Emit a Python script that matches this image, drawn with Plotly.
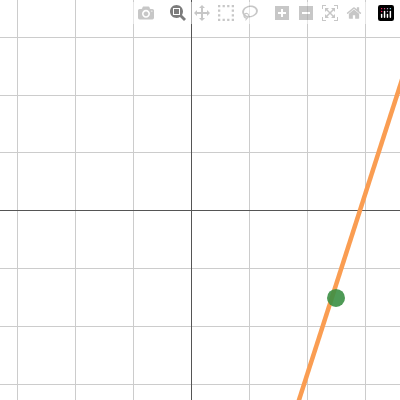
import plotly.graph_objects as go

line_x = [1.8, 3.7]
line_y = [-3.45, 2.46]
point_x = [2.5]
point_y = [-1.5]

fig = go.Figure()
fig.add_trace(go.Scatter(x=line_x, y=line_y, mode="lines",
                         line=dict(color="#fa9d52", width=4.5)))
fig.add_trace(go.Scatter(x=point_x, y=point_y, mode="markers",
                         marker=dict(color="#3b8f44", size=18, opacity=0.9)))

axis = dict(dtick=1, showgrid=True, gridcolor="#cccccc", gridwidth=1,
            zeroline=True, zerolinecolor="#555555", zerolinewidth=1,
            showticklabels=False, ticks="", showline=False)
fig.update_layout(
    width=400, height=400, margin=dict(l=0, r=0, t=0, b=0),
    plot_bgcolor="white", paper_bgcolor="white", showlegend=False,
    xaxis=dict(range=[-3.293, 3.603], **axis),
    yaxis=dict(range=[-3.259, 3.638], **axis),
)
fig.write_html("out.html",
               post_script="document.body.style.margin='0';document.body.style.overflow='hidden';")
